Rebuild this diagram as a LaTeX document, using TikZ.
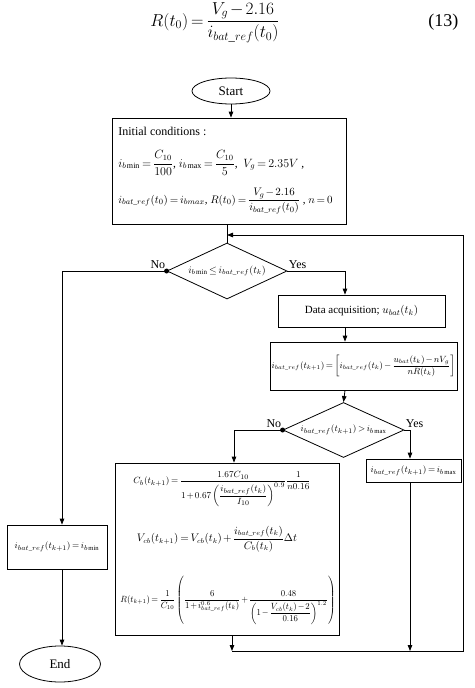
\documentclass[tikz,border=0pt]{standalone}
\usepackage{amsmath}
\usepackage{graphicx}
\usepackage{fontspec}
\setmainfont{Liberation Serif}
\usetikzlibrary{shapes.geometric,arrows.meta,shadows}
\newcommand{\fsz}[1]{\fontsize{#1}{#1}\selectfont\thinmuskip=2mu\medmuskip=2mu\thickmuskip=3mu}
\begin{document}
\begin{tikzpicture}[x=1pt,y=-1pt,
 line width=0.8pt,
 arr/.style={-{Triangle[length=6pt,width=4.5pt]}},
 box/.style={draw, rectangle, inner sep=1pt, fill=white,
   drop shadow={shadow xshift=1.2pt,shadow yshift=-1.2pt,fill=black!40,opacity=1},
   font=\fsz{11}},
 txt/.style={inner sep=0pt},
 term/.style={draw, ellipse, inner sep=0pt, font=\fsz{13}},
 dec/.style={draw, diamond, inner sep=0pt, aspect=2.1, font=\fsz{10}},
 lab/.style={font=\fsz{12}, inner sep=1pt},
 dot/.style={circle, fill, inner sep=0pt, minimum size=5pt}
]
\clip (0,0) rectangle (474,688);
\useasboundingbox (0,0) rectangle (474,688);

% top equation
\node[anchor=base west, inner sep=0pt, font=\fsz{18}] (eq) at (150,26)
  {$R(t_0)=\dfrac{V_g-2.16}{i_{bat\_ref}(t_0)}$};
\node[anchor=base west, inner sep=0pt, font=\fsz{18}] (eqn) at (428,27) {(13)};

% nodes
\node[term, minimum width=78pt, minimum height=26pt] (start) at (231,91) {Start};

\node[box, minimum width=234pt, minimum height=106pt] (init) at (229,171) {};
\node[txt, anchor=west, font=\fsz{12}] (ic1) at (118,131) {Initial conditions :};
\node[txt, anchor=west, font=\fsz{11.5}] (ic2) at (118,163)
 {$i_{b\min}=\dfrac{C_{10}}{100}$, $i_{b\max}=\dfrac{C_{10}}{5}$, \ $V_g=2.35V$ ,};
\node[txt, anchor=west, font=\fsz{11}] (ic3) at (118,201)
 {$i_{bat\_ref}(t_0)=i_{bmax}$, $R(t_0)=\dfrac{V_g-2.16}{i_{bat\_ref}(t_0)}$ , $n=0$};

\node[dec, minimum width=120pt, minimum height=56pt] (d1) at (227,271)
 {$i_{b\min}\le i_{bat\_ref}(t_k)$};

\node[box, minimum width=167pt, minimum height=32pt] (dacq) at (361.5,311)
 {Data acquisition; $u_{bat}(t_k)$};

\node[box, minimum width=187pt, minimum height=48pt, font=\fsz{9}] (upd) at (363.5,366)
 {$i_{bat\_ref}(t_{k+1})=\left[i_{bat\_ref}(t_k)-\dfrac{u_{bat}(t_k)-nV_g}{nR(t_k)}\right]$};

\node[dec, minimum width=121pt, minimum height=55pt, font=\fsz{9.5}] (d2) at (343.5,430)
 {$i_{bat\_ref}(t_{k+1})>i_{b\max}$};

\node[box, minimum width=95pt, minimum height=23pt, font=\fsz{9.5}] (bmax) at (413.5,470.5)
 {$i_{bat\_ref}(t_{k+1})=i_{b\max}$};

\node[box, minimum width=224pt, minimum height=172pt] (calc) at (227,549) {};
\node[txt, font=\fsz{9.5}] (c1) at (222,489)
 {$C_b(t_{k+1})=\dfrac{1.67C_{10}}{1+0.67\left(\dfrac{i_{bat\_ref}(t_k)}{I_{10}}\right)^{0.9}}\dfrac{1}{n0.16}$};
\node[txt, font=\fsz{10.5}] (c2) at (217,539)
 {$V_{cb}(t_{k+1})=V_{cb}(t_k)+\dfrac{i_{bat\_ref}(t_k)}{C_b(t_k)}\Delta t$};
\node[txt, font=\fsz{9.2}] (c3) at (228,600)
 {\scalebox{0.94}[1]{$R(t_{k+1})=\dfrac{1}{C_{10}}\left(\dfrac{6}{1+i_{bat\_ref}^{0.6}(t_k)}+\dfrac{0.48}{\left(1-\dfrac{V_{cb}(t_k)-2}{0.16}\right)^{1.2}}\right)$}};

\node[box, minimum width=100pt, minimum height=44pt, font=\fsz{9.5}] (bmin) at (57,547)
 {$i_{bat\_ref}(t_{k+1})=i_{b\min}$};

\node[term, minimum width=81pt, minimum height=36pt] (end) at (60,664) {End};

% coordinates
\coordinate (cL) at (62,271);
\coordinate (cA) at (345,271);
\coordinate (cN) at (234,430);
\coordinate (cY) at (410,430);
\coordinate (m1) at (232,651);
\coordinate (cR) at (463,651);
\coordinate (cT) at (463,235);
\coordinate (j0) at (227,235);

% connectors
\draw[arr] (start.south) -- (start.south |- init.north);
\draw (init.south -| d1.north) -- (d1.north);
\draw[arr] (d1.east) -- (cA) -- (cA |- dacq.north);
\draw[arr] (cA |- dacq.south) -- (cA |- upd.north);
\draw[arr] (cA |- upd.south) -- (d2.north);
\draw[arr] (d1.west) -- (cL) -- (cL |- bmin.north);
\draw[arr] (cL |- bmin.south) -- (cL |- end.north);
\draw[arr] (d2.west) -- (cN) -- (cN |- calc.north);
\draw[arr] (d2.east) -- (cY) -- (cY |- bmax.north);
\draw[arr] (m1 |- calc.south) -- (m1);
\draw[arr] (cY |- bmax.south) -- (cY |- cR);
\draw[arr] (m1) -- (cR) -- (cT) -- (j0);

\node[dot] (dot1) at (d1.west) {};
\node[dot] (dot2) at (d2.west) {};
\node[lab, anchor=south east] (no1) at ([yshift=1pt]d1.west) {No};
\node[lab, anchor=south west] (yes1) at ([yshift=1pt]d1.east) {Yes};
\node[lab, anchor=south east] (no2) at ([yshift=1pt]d2.west) {No};
\node[lab, anchor=south west] (yes2) at ([yshift=1pt]d2.east) {Yes};
\end{tikzpicture}
\end{document}
